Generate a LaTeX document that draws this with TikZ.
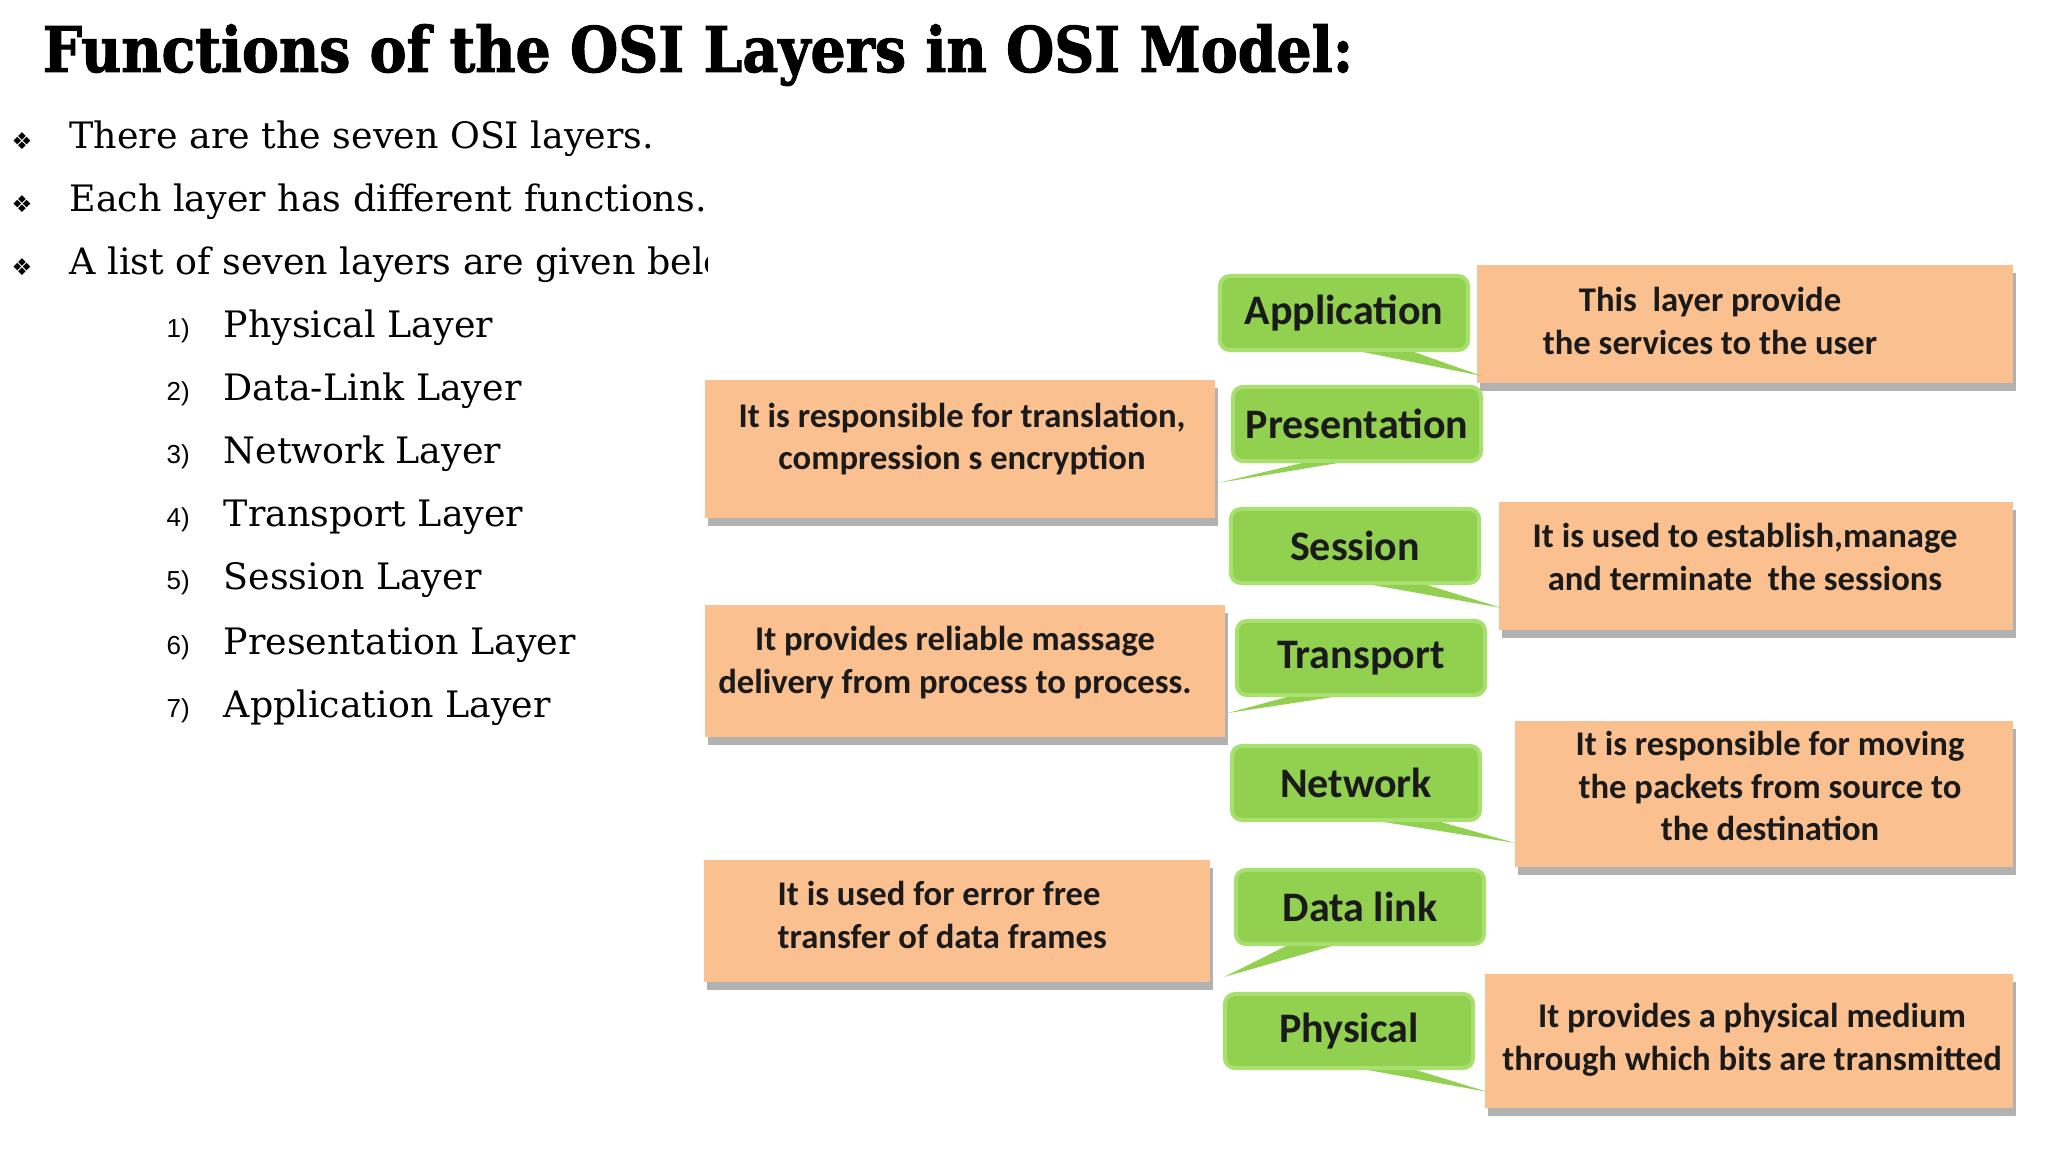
\documentclass[tikz,border=0pt]{standalone}
\usepackage{fontspec}
\usepackage{tikz}
\setmainfont{DejaVu Serif}
\newfontfamily\titlefont[FakeStretch=0.88, BoldFeatures={FakeBold=1.6}]{DejaVu Serif}
\newfontfamily\labelfont{Carlito}
\newfontfamily\symfont{DejaVu Sans}
\newfontfamily\numfont{Liberation Sans}
\definecolor{green500}{HTML}{92D050}
\definecolor{green300}{HTML}{A8E070}
\definecolor{orange200}{HTML}{FAC090}
\definecolor{ink}{HTML}{1A1A1A}
\usetikzlibrary{shadows}
\tikzstyle{layer}=[rectangle, rounded corners=0.1cm, draw=green300, line width=0.04cm, fill=green500, minimum width=2.48cm, minimum height=0.74cm, text=ink, font=\labelfont\bfseries\fontsize{11.95}{14}\selectfont]
\tikzstyle{note}=[rectangle, fill=orange200, drop shadow={shadow xshift=0.03cm, shadow yshift=-0.08cm, opacity=0.55, fill=black!55}]
\tikzstyle{notetext}=[align=center, inner sep=0, text=ink, font=\labelfont\bfseries\fontsize{9.85}{12.2}\selectfont]
\tikzstyle{tail}=[fill=green500]
\tikzstyle{bullet}=[inner sep=0, font=\symfont\fontsize{6.6}{7}\selectfont]
\tikzstyle{item}=[anchor=base west, inner sep=0, font=\fontsize{10.35}{12}\selectfont]

\begin{document}
\begin{tikzpicture}[x=0.01cm, y=-0.01cm]
	\fill[white] (0,0) rectangle (2048,1152);
	\useasboundingbox (0,0) rectangle (2048,1152);
	% title and bullets
	\node[anchor=base west, inner sep=0, font=\titlefont\bfseries\fontsize{17.9}{20}\selectfont] (title) at (42,72) {Functions of the OSI Layers in OSI Model:};
	\node[bullet] (b1) at (22,141) {❖};
	\node[bullet] (b2) at (22,204) {❖};
	\node[bullet] (b3) at (22,267) {❖};
	\node[item] (t1) at (69,149) {There are the seven OSI layers.};
	\node[item] (t2) at (69,212) {Each layer has different functions.};
	\begin{scope}
		\clip (0,230) rectangle (707,300);
		\node[item] (t3) at (69,275) {A list of seven layers are given below:};
	\end{scope}
	\node[item] (l1) at (166,338) {\makebox[0.57cm][l]{\numfont\fontsize{7.4}{8}\selectfont 1)}Physical Layer};
	\node[item] (l2) at (166,401) {\makebox[0.57cm][l]{\numfont\fontsize{7.4}{8}\selectfont 2)}Data-Link Layer};
	\node[item] (l3) at (166,464) {\makebox[0.57cm][l]{\numfont\fontsize{7.4}{8}\selectfont 3)}Network Layer};
	\node[item] (l4) at (166,527) {\makebox[0.57cm][l]{\numfont\fontsize{7.4}{8}\selectfont 4)}Transport Layer};
	\node[item] (l5) at (166,590) {\makebox[0.57cm][l]{\numfont\fontsize{7.4}{8}\selectfont 5)}Session Layer};
	\node[item] (l6) at (166,654) {\makebox[0.57cm][l]{\numfont\fontsize{7.4}{8}\selectfont 6)}Presentation Layer};
	\node[item] (l7) at (166,717) {\makebox[0.57cm][l]{\numfont\fontsize{7.4}{8}\selectfont 7)}Application Layer};
	% description boxes
	\node[note, minimum width=5.36cm, minimum height=1.18cm] (appnote) at (1745,324) {};
	\node[note, minimum width=5.10cm, minimum height=1.38cm] (presnote) at (960,449) {};
	\node[note, minimum width=5.13cm, minimum height=1.27cm] (sessnote) at (1756,566) {};
	\node[note, minimum width=5.20cm, minimum height=1.32cm] (transnote) at (965,671) {};
	\node[note, minimum width=4.97cm, minimum height=1.45cm] (netnote) at (1764,794) {};
	\node[note, minimum width=5.05cm, minimum height=1.22cm] (dlinknote) at (957,921) {};
	\node[note, minimum width=5.27cm, minimum height=1.33cm] (physnote) at (1749,1041) {};
	% tails
	\coordinate (apptip) at (1482,376);
	\coordinate (prestip) at (1218,483);
	\coordinate (sesstip) at (1502,608);
	\coordinate (transtip) at (1228,713);
	\coordinate (nettip) at (1515,843);
	\coordinate (dlinktip) at (1224,977);
	\coordinate (phystip) at (1488,1092);
	\node[layer] (app) at (1344,313) {Application};
	\node[layer] (pres) at (1357,424) {Presentation};
	\node[layer] (sess) at (1355,546) {Session};
	\node[layer] (trans) at (1361,658) {Transport};
	\node[layer] (net) at (1356,783) {Network};
	\node[layer] (dlink) at (1360,907) {Data link};
	\node[layer] (phys) at (1349,1031) {Physical};
	\path[tail] ([xshift=0.19cm]app.south) -- ([xshift=0.70cm]app.south) -- (apptip) -- cycle;
	\path[tail] ([xshift=-0.55cm]pres.south) -- ([xshift=-0.19cm]pres.south) -- (prestip) -- cycle;
	\path[tail] ([xshift=0.18cm]sess.south) -- ([xshift=0.72cm]sess.south) -- (sesstip) -- cycle;
	\path[tail] ([xshift=-0.74cm]trans.south) -- ([xshift=-0.28cm]trans.south) -- (transtip) -- cycle;
	\path[tail] ([xshift=0.28cm]net.south) -- ([xshift=0.85cm]net.south) -- (nettip) -- cycle;
	\path[tail] ([xshift=-0.74cm]dlink.south) -- ([xshift=-0.28cm]dlink.south) -- (dlinktip) -- cycle;
	\path[tail] ([xshift=0.19cm]phys.south) -- ([xshift=0.67cm]phys.south) -- (phystip) -- cycle;
	% description texts
	\node[notetext] (apptext) at (1710,321) {This~ layer provide\\the services to the user};
	\node[notetext] (prestext) at (962,439) {It is responsible for translation,\\compression s encryption};
	\node[notetext] (sesstext) at (1745,557) {It is used to establish,manage\\and terminate~ the sessions};
	\node[notetext] (transtext) at (955,663) {It provides reliable massage\\delivery from process to process.};
	\node[notetext] (nettext) at (1770,786) {It is responsible for moving\\the packets from source to\\the destination};
	\node[notetext, align=left, anchor=west] (dlinktext) at (777,915) {It is used for error free\\transfer of data frames};
	\node[notetext] (phystext) at (1752,1040) {It provides a physical medium\\through which bits are transmitted};
\end{tikzpicture}
\end{document}
